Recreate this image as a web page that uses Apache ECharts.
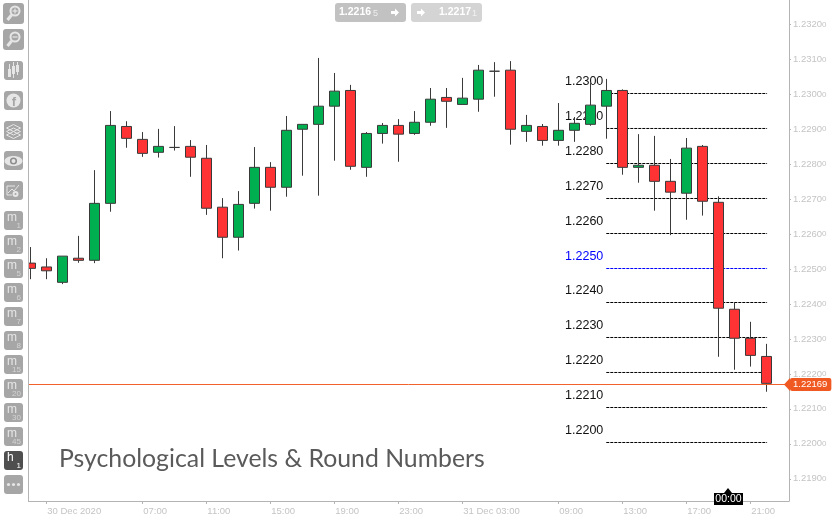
<!DOCTYPE html>
<html>
<head>
<meta charset="utf-8">
<script src="https://cdn.jsdelivr.net/npm/echarts@6/dist/echarts.min.js"></script>
<style>html,body{margin:0;padding:0;background:#fff}#main{width:833px;height:518px}</style>
</head>
<body>
<div id="main"></div>
<script>
var opens  = [1.22517,1.22506,1.22462,1.22531,1.22525,1.22688,1.22908,1.22871,1.22834,1.22848,1.22851,1.22817,1.22677,1.22591,1.22688,1.22791,1.22734,1.22900,1.22914,1.22966,1.23011,1.22791,1.22888,1.22911,1.22888,1.22920,1.22991,1.22971,1.22986,1.23066,1.23069,1.22894,1.22908,1.22868,1.22897,1.22914,1.22966,1.23011,1.22791,1.22797,1.22751,1.22717,1.22851,1.22691,1.22385,1.22302,1.22250];
var closes = [1.22502,1.22495,1.22537,1.22525,1.22688,1.22911,1.22874,1.22831,1.22851,1.22848,1.22820,1.22674,1.22591,1.22685,1.22791,1.22734,1.22897,1.22914,1.22966,1.23009,1.22794,1.22888,1.22911,1.22886,1.22920,1.22986,1.22980,1.22989,1.23069,1.23066,1.22900,1.22911,1.22868,1.22897,1.22917,1.22969,1.23011,1.22791,1.22797,1.22751,1.22720,1.22846,1.22694,1.22388,1.22302,1.22253,1.22173];
var lows   = [1.22471,1.22471,1.22457,1.22518,1.22517,1.22664,1.22847,1.22821,1.22819,1.22839,1.22764,1.22655,1.22531,1.22553,1.22673,1.22667,1.22707,1.22767,1.22710,1.22810,1.22784,1.22764,1.22859,1.22807,1.22884,1.22910,1.22904,1.22971,1.22950,1.22993,1.22856,1.22864,1.22853,1.22853,1.22864,1.22910,1.22873,1.22770,1.22747,1.22667,1.22597,1.22641,1.22653,1.22249,1.22212,1.22221,1.22149];
var highs  = [1.22563,1.22531,1.22537,1.22595,1.22783,1.22952,1.22923,1.22892,1.22901,1.22909,1.22869,1.22855,1.22703,1.22723,1.22849,1.22806,1.22938,1.22914,1.23104,1.23061,1.23027,1.22892,1.22918,1.22929,1.22952,1.23018,1.23018,1.23047,1.23084,1.23092,1.23095,1.22941,1.22915,1.22975,1.22935,1.23032,1.23044,1.23014,1.22886,1.22881,1.22815,1.22875,1.22855,1.22708,1.22405,1.22349,1.22286];

var priceTicks = [1.2190,1.2200,1.2210,1.2220,1.2230,1.2240,1.2250,1.2260,1.2270,1.2280,1.2290,1.2300,1.2310,1.2320];
var timeTicks  = [1,7,11,15,19,23,27,33,37,41,45];
var timeLabels = ['30 Dec 2020','07:00','11:00','15:00','19:00','23:00','31 Dec 03:00','09:00','13:00','17:00','21:00'];

// round number levels, they sit a hair above the axis tick in the original
var levels      = [1.230023,1.229022,1.228020,1.227019,1.226017,1.225016,1.224043,1.223042,1.222041,1.221039,1.220038];
var levelLabels = ['1.2300','1.2290','1.2280','1.2270','1.2260','1.2250','1.2240','1.2230','1.2220','1.2210','1.2200'];
var levelStart = 36, levelEnd = 46.05;
var lastPrice = 1.221697, lastLabel = '1.22169';

var xMin = -0.144, xMax = 47.42;
var yMin = 1.218364, yMax = 1.232698;

var timeframes = [['m','1',211],['m','2',235],['m','5',259],['m','6',283],['m','7',307],['m','8',331],['m','15',355],['m','20',379],['m','30',403],['m','45',427],['h','1',451]];

var BTN = '#a6a6a6', ICON = '#e6e6e6', AXIS = '#b4b4b4';

function btn(x, y, w, h, fill) {
    return {type:'rect', shape:{x:x,y:y,width:w,height:h,r:3}, style:{fill:fill||BTN}};
}
function stroke(type, shape, width, color) {
    return {type:type, shape:shape, style:{fill:'none',stroke:color||ICON,lineWidth:width||1}};
}
function solid(type, shape, color) {
    return {type:type, shape:shape, style:{fill:color||ICON}};
}
function txt(x, y, s, size, color, weight, align) {
    return {type:'text', x:x, y:y, style:{text:s, fontSize:size, fill:color||ICON, fontFamily:'Liberation Sans', fontWeight:weight||'normal', textAlign:align||'left', textVerticalAlign:'middle'}};
}

function toolbar() {
    // white strip hides the part of the first candle left of the axis
    var out = [solid('rect',{x:0,y:0,width:28,height:518},'#fff'), solid('rect',{x:28,y:0,width:1,height:501},AXIS)];
    // zoom in / out
    out.push(btn(3,3,21,21), stroke('circle',{cx:15,cy:11,r:4.5},2), stroke('line',{x1:11.5,y1:15,x2:7.5,y2:20},3),
             stroke('line',{x1:12.5,y1:11,x2:17.5,y2:11},1.2), stroke('line',{x1:15,y1:8.5,x2:15,y2:13.5},1.2));
    out.push(btn(3,29,21,21), stroke('circle',{cx:15,cy:37,r:4.5},2), stroke('line',{x1:11.5,y1:41,x2:7.5,y2:46},3),
             stroke('line',{x1:12.5,y1:37,x2:17.5,y2:37},1.2));
    // candles
    out.push(btn(4,61,19,19));
    [[9,69,8,64,77],[13,66,8,62,78],[17,65,7,62,75]].forEach(function (c) {
        out.push(stroke('line',{x1:c[0]+.5,y1:c[3],x2:c[0]+.5,y2:c[4]},1), solid('rect',{x:c[0]-1,y:c[1],width:3,height:c[2]}));
    });
    // facebook
    out.push(btn(4,91,19,19), solid('circle',{cx:13.5,cy:100.5,r:7}), txt(14,102,'f',13,BTN,'bold','center'));
    // layers
    out.push(btn(4,121,19,19));
    [135,131.5,128].forEach(function (y) {
        out.push(stroke('polygon',{points:[[6.5,y],[13.5,y-3.5],[20.5,y],[13.5,y+3.5]]},1));
    });
    // eye
    out.push(btn(4,151,19,19), solid('ellipse',{cx:13.5,cy:161,rx:9,ry:5}), stroke('circle',{cx:13.5,cy:161,r:2.8},1.6,'#8f8f8f'));
    // chart settings
    out.push(btn(4,181,19,19), stroke('polyline',{points:[[15,186],[7,186],[7,195],[12,195]]},1),
             stroke('polyline',{points:[[8,193],[12,189],[14,191],[19,185]]},1), stroke('circle',{cx:15.5,cy:194,r:2},2));
    // timeframes
    timeframes.forEach(function (t) {
        var on = t[0] === 'h';
        out.push(btn(4,t[2],19,19,on?'#4f4f4f':BTN));
        out.push(txt(7,t[2]+7,t[0],12,on?'#fff':ICON));
        out.push(txt(21,t[2]+14.5,t[1],8,on?'#fff':'#d4d4d4','normal','right'));
    });
    // more
    out.push(btn(4,475,19,19));
    [8.5,13.5,18.5].forEach(function (x) { out.push(solid('circle',{cx:x,cy:484.5,r:1.6})); });
    return out;
}

function arrow(x, y) {
    return solid('polygon',{points:[[x,y-1.5],[x+4,y-1.5],[x+4,y-4],[x+8,y],[x+4,y+4],[x+4,y+1.5],[x,y+1.5]]},'#fff');
}

function priceBoxes() {
    return [
        btn(335,3,71,19,'#c2c2c2'), txt(339,12.5,'1.2216',10.5,'#fff','bold'), txt(373,13.5,'5',9,'#eee'), arrow(391,12.5),
        btn(411,3,71,19,'#d4d4d4'), arrow(417,12.5), txt(439,12.5,'1.2217',10.5,'#fff','bold'), txt(472,13.5,'1',9,'#f2f2f2')
    ];
}

function timeTag() {
    return [
        solid('polygon',{points:[[714,493],[724,493],[728,488],[732,493],[743,493],[743,505],[714,505]]},'#000'),
        txt(728.5,499.5,'00:00',10.5,'#fff','normal','center')
    ];
}

var overlay = toolbar().concat(priceBoxes(), timeTag(),
    [solid('polygon',{points:[[784,384.5],[790,378],[790,391]]},'#f05a22')]);
overlay.forEach(function (el) { el.z = 20; });

var levelSeries = levels.map(function (v, i) {
    var color = levelLabels[i] === '1.2250' ? '#0000ff' : '#000';
    return {
        type:'line', z:1, silent:true, symbol:'circle', symbolSize:0, showSymbol:true,
        data:[{
            value:[levelStart, v],
            label:{show:true, position:[-3,-12], align:'right', verticalAlign:'middle', formatter:levelLabels[i],
                   fontFamily:'Liberation Sans', fontSize:12.5, color:color==='#000'?'#111':color}
        },[levelEnd, v]],
        lineStyle:{color:color, width:1, type:[3,1]}
    };
});

var myChart = echarts.init(document.getElementById('main'), null, {renderer:'canvas'});
myChart.setOption({
    animation:false,
    backgroundColor:'#fff',
    title:{text:'Psychological Levels & Round Numbers', left:59, top:447, padding:0,
           textStyle:{fontFamily:'Lato', fontWeight:'normal', fontSize:24.8, color:'#5a5a5a'}},
    grid:{left:28, right:44, top:0, bottom:17},
    xAxis:{
        type:'value', min:xMin, max:xMax, splitLine:{show:false},
        axisLine:{onZero:false, lineStyle:{color:AXIS}},
        axisTick:{length:3, lineStyle:{color:AXIS}, customValues:timeTicks},
        axisLabel:{customValues:timeTicks, align:'left', margin:5, padding:[0,0,0,1], color:'#c4c4c4', fontFamily:'Liberation Sans', fontSize:9.5,
            formatter:function (v) { return timeLabels[timeTicks.indexOf(v)]; }}
    },
    yAxis:[{
        type:'value', position:'right', min:yMin, max:yMax, splitLine:{show:false},
        axisLine:{show:true, onZero:false, lineStyle:{color:AXIS}},
        axisTick:{show:true, length:2, lineStyle:{color:AXIS}, customValues:priceTicks},
        axisLabel:{customValues:priceTicks, margin:4, color:'#c4c4c4', fontFamily:'Liberation Sans', fontSize:9,
            formatter:function (v) { return '{p|' + v.toFixed(4) + '}{s|0}'; },
            rich:{p:{fontSize:9.5, color:'#c4c4c4', fontFamily:'Liberation Sans'}, s:{fontSize:8, color:'#c4c4c4', fontFamily:'Liberation Sans'}}}
    }],
    series:levelSeries.concat([{
        type:'candlestick', z:2, silent:true, barWidth:10,
        encode:{x:0, y:[1,2,3,4]},
        data:opens.map(function (o, i) { return [i, o, closes[i], lows[i], highs[i]]; }),
        itemStyle:{color:'#00b050', color0:'#ff3333', borderColor:'#3a3a3a', borderColor0:'#3a3a3a', borderColorDoji:'#3a3a3a', borderWidth:1}
    },{
        type:'line', z:3, silent:true, symbol:'circle', symbolSize:0, showSymbol:true,
        data:[[xMin, lastPrice],{
            value:[xMax, lastPrice],
            label:{show:true, position:[1,0], align:'left', verticalAlign:'middle', formatter:lastLabel, color:'#fff',
                   fontFamily:'Liberation Sans', fontSize:9.5, backgroundColor:'#f05a22', padding:[2,4,1,3], borderRadius:2}
        }],
        lineStyle:{color:'#f0622a', width:1}
    }]),
    graphic:{elements:[{type:'group', children:overlay}]}
});
</script>
</body>
</html>
